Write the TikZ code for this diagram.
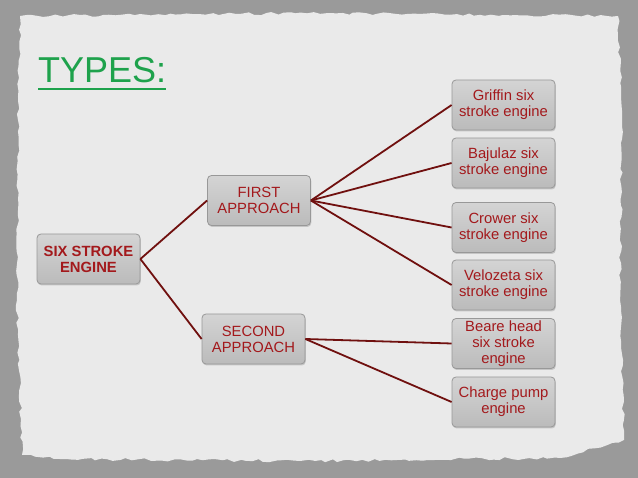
\documentclass[tikz,border=0pt]{standalone}
\usepackage{fontspec}
\setmainfont{Liberation Sans}
\usetikzlibrary{shadows,decorations.pathmorphing}
\definecolor{bordergray}{HTML}{9A9A9A}
\definecolor{paper}{HTML}{EAEAEA}
\definecolor{boxtop}{HTML}{D4D4D4}
\definecolor{boxbot}{HTML}{BBBBBB}
\definecolor{boxline}{HTML}{989898}
\definecolor{txtred}{HTML}{A3191C}
\definecolor{linkred}{HTML}{70100F}
\definecolor{titlegreen}{HTML}{1EA24C}
\tikzset{
  box/.style={draw=boxline, line width=0.8pt, rounded corners=4pt,
    top color=boxtop, bottom color=boxbot, text=txtred,
    align=center, inner sep=2pt,
    font=\fontsize{14.8}{16}\selectfont,
    drop shadow={opacity=0.35, shadow xshift=0.8pt, shadow yshift=-1.5pt},
    minimum width=103pt, minimum height=50pt},
  link/.style={draw=linkred, line width=1.8pt}
}
\begin{document}
\begin{tikzpicture}[x=1pt,y=-1pt]
\useasboundingbox (0,0) rectangle (638,478);
\fill[bordergray] (0,0) rectangle (638,478);
\fill[paper, decorate, decoration={random steps, segment length=6pt, amplitude=1.5pt}]
  (20,16) -- (330,13) -- (618,16) -- (622,120) -- (620,300) -- (624,440)
  -- (560,458) -- (300,461) -- (60,459) -- (22,455) -- (17,300) -- (18,120) -- cycle;

\node[anchor=base west, inner sep=0pt, text=titlegreen, font=\fontsize{36}{40}\selectfont] (title) at (38,83) {TYPES:};
\draw[titlegreen, line width=2pt] ([yshift=-6pt]title.base west) -- ([yshift=-6pt]title.base east);

\node[box, font=\fontsize{14.8}{16}\selectfont\bfseries] (six) at (88.5,259) {SIX STROKE\\ENGINE};
\node[box] (first) at (259,200.5) {FIRST\\APPROACH};
\node[box] (second) at (253.5,339) {SECOND\\APPROACH};

\node[box] (griffin) at (503.5,105) {Griffin six\\stroke engine};
\node[box] (bajulaz) at (503.5,163) {Bajulaz six\\stroke engine};
\node[box] (crower) at (503.5,227.5) {Crower six\\stroke engine};
\node[box] (velozeta) at (503.5,285) {Velozeta six\\stroke engine};
\node[box] (beare) at (503.5,343.5) {Beare head\\six stroke\\engine};
\node[box] (charge) at (503.5,402) {Charge pump\\engine};

\draw[link] (six.east) -- (first.west);
\draw[link] (six.east) -- (second.west);
\draw[link] (first.east) -- (griffin.west);
\draw[link] (first.east) -- (bajulaz.west);
\draw[link] (first.east) -- (crower.west);
\draw[link] (first.east) -- (velozeta.west);
\draw[link] (second.east) -- (beare.west);
\draw[link] (second.east) -- (charge.west);
\end{tikzpicture}
\end{document}
